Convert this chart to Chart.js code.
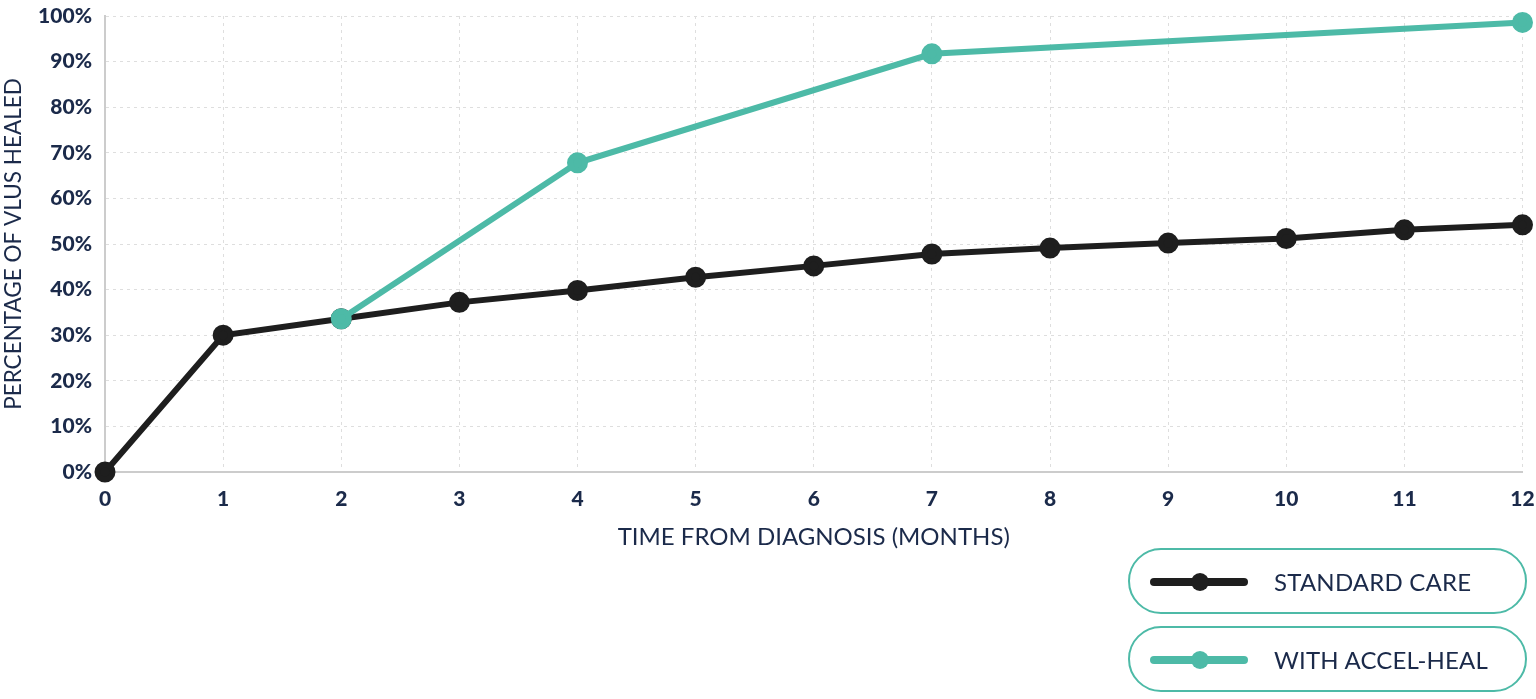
<!DOCTYPE html>
<html>
<head>
<meta charset="utf-8">
<script src="https://cdn.jsdelivr.net/npm/chart.js@4/dist/chart.umd.min.js"></script>
<style>
  html, body { margin: 0; padding: 0; background: #ffffff; }
  #wrap { position: relative; width: 1536px; height: 699px; }
  canvas { position: absolute; left: 0; top: 0; }
  .leg { position: absolute; left: 1128px; width: 395px; height: 62px; border: 2.5px solid #4dbaa7; border-radius: 33px; box-sizing: content-box; }
  .leg .ln { position: absolute; left: 20px; top: 28px; width: 98px; height: 8px; border-radius: 4px; }
  .leg .dt { position: absolute; left: 61px; top: 23px; width: 18px; height: 18px; border-radius: 50%; }
  .leg .tx { position: absolute; left: 144px; top: 0; line-height: 64px; font-family: Lato, "Open Sans", sans-serif; font-size: 24px; color: #1b2a4a; letter-spacing: 0.2px; }
</style>
</head>
<body>
<div id="wrap">
  <canvas id="c" width="1536" height="699"></canvas>
  <div class="leg" style="top:548px">
    <div class="ln" style="background:#1e1e1e"></div><div class="dt" style="background:#1e1e1e"></div>
    <div class="tx" id="leg0"></div>
  </div>
  <div class="leg" style="top:626px">
    <div class="ln" style="background:#4dbaa7"></div><div class="dt" style="background:#4dbaa7"></div>
    <div class="tx" id="leg1"></div>
  </div>
</div>
<script>
const months = [0, 1, 2, 3, 4, 5, 6, 7, 8, 9, 10, 11, 12];
const standardCare = [0, 30.0, 33.6, 37.2, 39.8, 42.7, 45.2, 47.8, 49.1, 50.2, 51.2, 53.1, 54.2];
const accelMonths = [2, 4, 7, 12];
const accelHeal = [33.6, 67.8, 91.7, 98.6];
const seriesNames = ['STANDARD CARE', 'WITH ACCEL-HEAL'];
const xTitle = 'TIME FROM DIAGNOSIS (MONTHS)';
const yTitle = 'PERCENTAGE OF VLUS HEALED';

document.getElementById('leg0').textContent = seriesNames[0];
document.getElementById('leg1').textContent = seriesNames[1];

const navy = '#1b2a4a';
const teal = '#4dbaa7';
const black = '#1e1e1e';

new Chart(document.getElementById('c'), {
  type: 'line',
  data: {
    datasets: [
      {
        label: seriesNames[1],
        data: accelMonths.map((m, i) => ({ x: m, y: accelHeal[i] })),
        borderColor: teal, backgroundColor: teal,
        borderWidth: 6, pointRadius: 7.5, pointHoverRadius: 7.5,
        tension: 0, clip: false
      },
      {
        label: seriesNames[0],
        data: months.map((m, i) => ({ x: m, y: standardCare[i] })),
        borderColor: black, backgroundColor: black,
        borderWidth: 6, pointRadius: 7.5, pointHoverRadius: 7.5,
        tension: 0, clip: false
      }
    ]
  },
  options: {
    responsive: false,
    animation: false,
    layout: { padding: { left: 0, top: 16, right: 10, bottom: 147 } },
    plugins: { legend: { display: false }, tooltip: { enabled: false } },
    scales: {
      x: {
        type: 'linear', min: 0, max: 12,
        ticks: { stepSize: 1, padding: 15, color: navy, font: { family: 'Lato', size: 21, weight: '900' } },
        grid: { color: '#dedede', lineWidth: 1, drawTicks: false },
        border: { color: '#cccccc', width: 2, dash: [3, 4] },
        title: { display: true, text: xTitle, color: navy, padding: { top: 0, bottom: 0 }, font: { family: 'Lato', size: 24, weight: '400' } },
        afterFit: s => { s.height = 80; s.paddingLeft = 0; s.paddingRight = 0; }
      },
      y: {
        min: 0, max: 100,
        ticks: { stepSize: 10, padding: 13, color: navy, callback: v => v + '%', font: { family: 'Lato', size: 21, weight: '900' } },
        grid: { color: '#dedede', lineWidth: 1, drawTicks: false },
        border: { color: '#cccccc', width: 2, dash: [3, 4] },
        title: { display: true, text: yTitle, color: navy, padding: { top: 0, bottom: 0 }, font: { family: 'Lato', size: 22.5, weight: '400' } },
        afterFit: s => { s.width = 105; s.paddingTop = 0; s.paddingBottom = 0; }
      }
    }
  }
});
</script>
</body>
</html>
